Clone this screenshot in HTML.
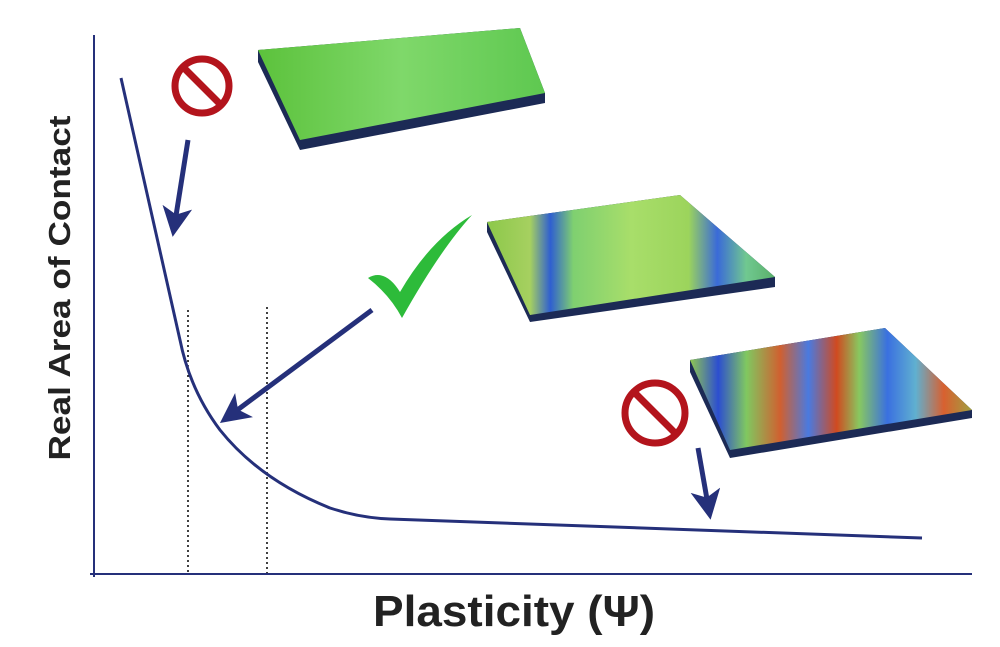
<!DOCTYPE html>
<html><head><style>body{margin:0;background:#fff}svg{display:block}</style></head><body>
<svg width="1000" height="647" viewBox="0 0 1000 647" xmlns="http://www.w3.org/2000/svg">
<defs>
<linearGradient id="g1" x1="0" y1="0" x2="1" y2="0"><stop offset="0" stop-color="#5cc23c"/><stop offset="0.5" stop-color="#7fd86a"/><stop offset="1" stop-color="#5ec850"/></linearGradient>
<linearGradient id="g2" x1="0" y1="0" x2="1" y2="0">
<stop offset="0" stop-color="#8cc84a"/><stop offset="0.15" stop-color="#a6d060"/><stop offset="0.22" stop-color="#2f5fd0"/><stop offset="0.3" stop-color="#7fd070"/><stop offset="0.5" stop-color="#a8de6a"/><stop offset="0.7" stop-color="#9cd45c"/><stop offset="0.8" stop-color="#3a6ad8"/><stop offset="0.9" stop-color="#70c890"/><stop offset="1" stop-color="#5ab06a"/></linearGradient>
<linearGradient id="g3" x1="0" y1="0" x2="1" y2="0">
<stop offset="0" stop-color="#90c850"/><stop offset="0.1" stop-color="#2c4ed0"/><stop offset="0.2" stop-color="#80c860"/><stop offset="0.32" stop-color="#d06030"/><stop offset="0.42" stop-color="#4a7ae0"/><stop offset="0.52" stop-color="#d04a20"/><stop offset="0.6" stop-color="#88c860"/><stop offset="0.7" stop-color="#3a70e0"/><stop offset="0.8" stop-color="#60b0d0"/><stop offset="0.9" stop-color="#d86030"/><stop offset="1" stop-color="#a0a040"/></linearGradient>
<marker id="ah" markerWidth="6" markerHeight="6" refX="3" refY="3" orient="auto" markerUnits="strokeWidth"><path d="M0,0 L6,3 L0,6 L1.5,3 Z" fill="#25307a"/></marker>
</defs>
<polygon points="258,50 520,28 545,93 545,103 300,150 258,62" fill="#1c2a55"/>
<polygon points="258,50 520,28 545,93 300,140" fill="url(#g1)"/>
<polygon points="487,222 680,195 775,277 775,287 530,322 487,232" fill="#1c2a55"/>
<polygon points="487,222 680,195 775,277 530,315" fill="url(#g2)"/>
<polygon points="690,360 885,328 972,410 972,418 730,458 690,372" fill="#1c2a55"/>
<polygon points="690,360 885,328 972,410 730,450" fill="url(#g3)"/>
<line x1="94" y1="35" x2="94" y2="577" stroke="#25307a" stroke-width="2"/>
<line x1="90" y1="574" x2="972" y2="574" stroke="#25307a" stroke-width="2"/>
<line x1="188" y1="310" x2="188" y2="573" stroke="#000" stroke-width="1.5" stroke-dasharray="2,3"/>
<line x1="267" y1="307" x2="267" y2="573" stroke="#000" stroke-width="1.5" stroke-dasharray="2,3"/>
<path d="M121,78 L180,340 Q190,390 220,430 Q260,480 330,508 Q360,518 390,519 L922,538" fill="none" stroke="#25307a" stroke-width="3"/>
<line x1="188" y1="140" x2="175" y2="222" stroke="#25307a" stroke-width="5" marker-end="url(#ah)"/>
<line x1="372" y1="310" x2="232" y2="414" stroke="#25307a" stroke-width="5" marker-end="url(#ah)"/>
<line x1="698" y1="448" x2="708" y2="505" stroke="#25307a" stroke-width="5" marker-end="url(#ah)"/>
<circle cx="202" cy="86" r="27" fill="none" stroke="#b3141c" stroke-width="7"/>
<line x1="183" y1="67" x2="221" y2="105" stroke="#b3141c" stroke-width="7"/>
<circle cx="655" cy="413" r="30" fill="none" stroke="#b3141c" stroke-width="7"/>
<line x1="634" y1="392" x2="676" y2="434" stroke="#b3141c" stroke-width="7"/>
<path d="M368,278 Q385,268 400,292 Q430,240 472,215 Q440,250 402,318 Q390,295 368,278 Z" fill="#2dbb3a"/>
<text x="0" y="0" transform="translate(70,288) rotate(-90)" text-anchor="middle" font-family="Liberation Sans, sans-serif" font-weight="bold" font-size="31" fill="#222" textLength="345" lengthAdjust="spacingAndGlyphs">Real Area of Contact</text>
<text x="514" y="626" text-anchor="middle" font-family="Liberation Sans, sans-serif" font-weight="bold" font-size="44" fill="#222" textLength="282" lengthAdjust="spacingAndGlyphs">Plasticity (Ψ)</text>
</svg>
</body></html>
